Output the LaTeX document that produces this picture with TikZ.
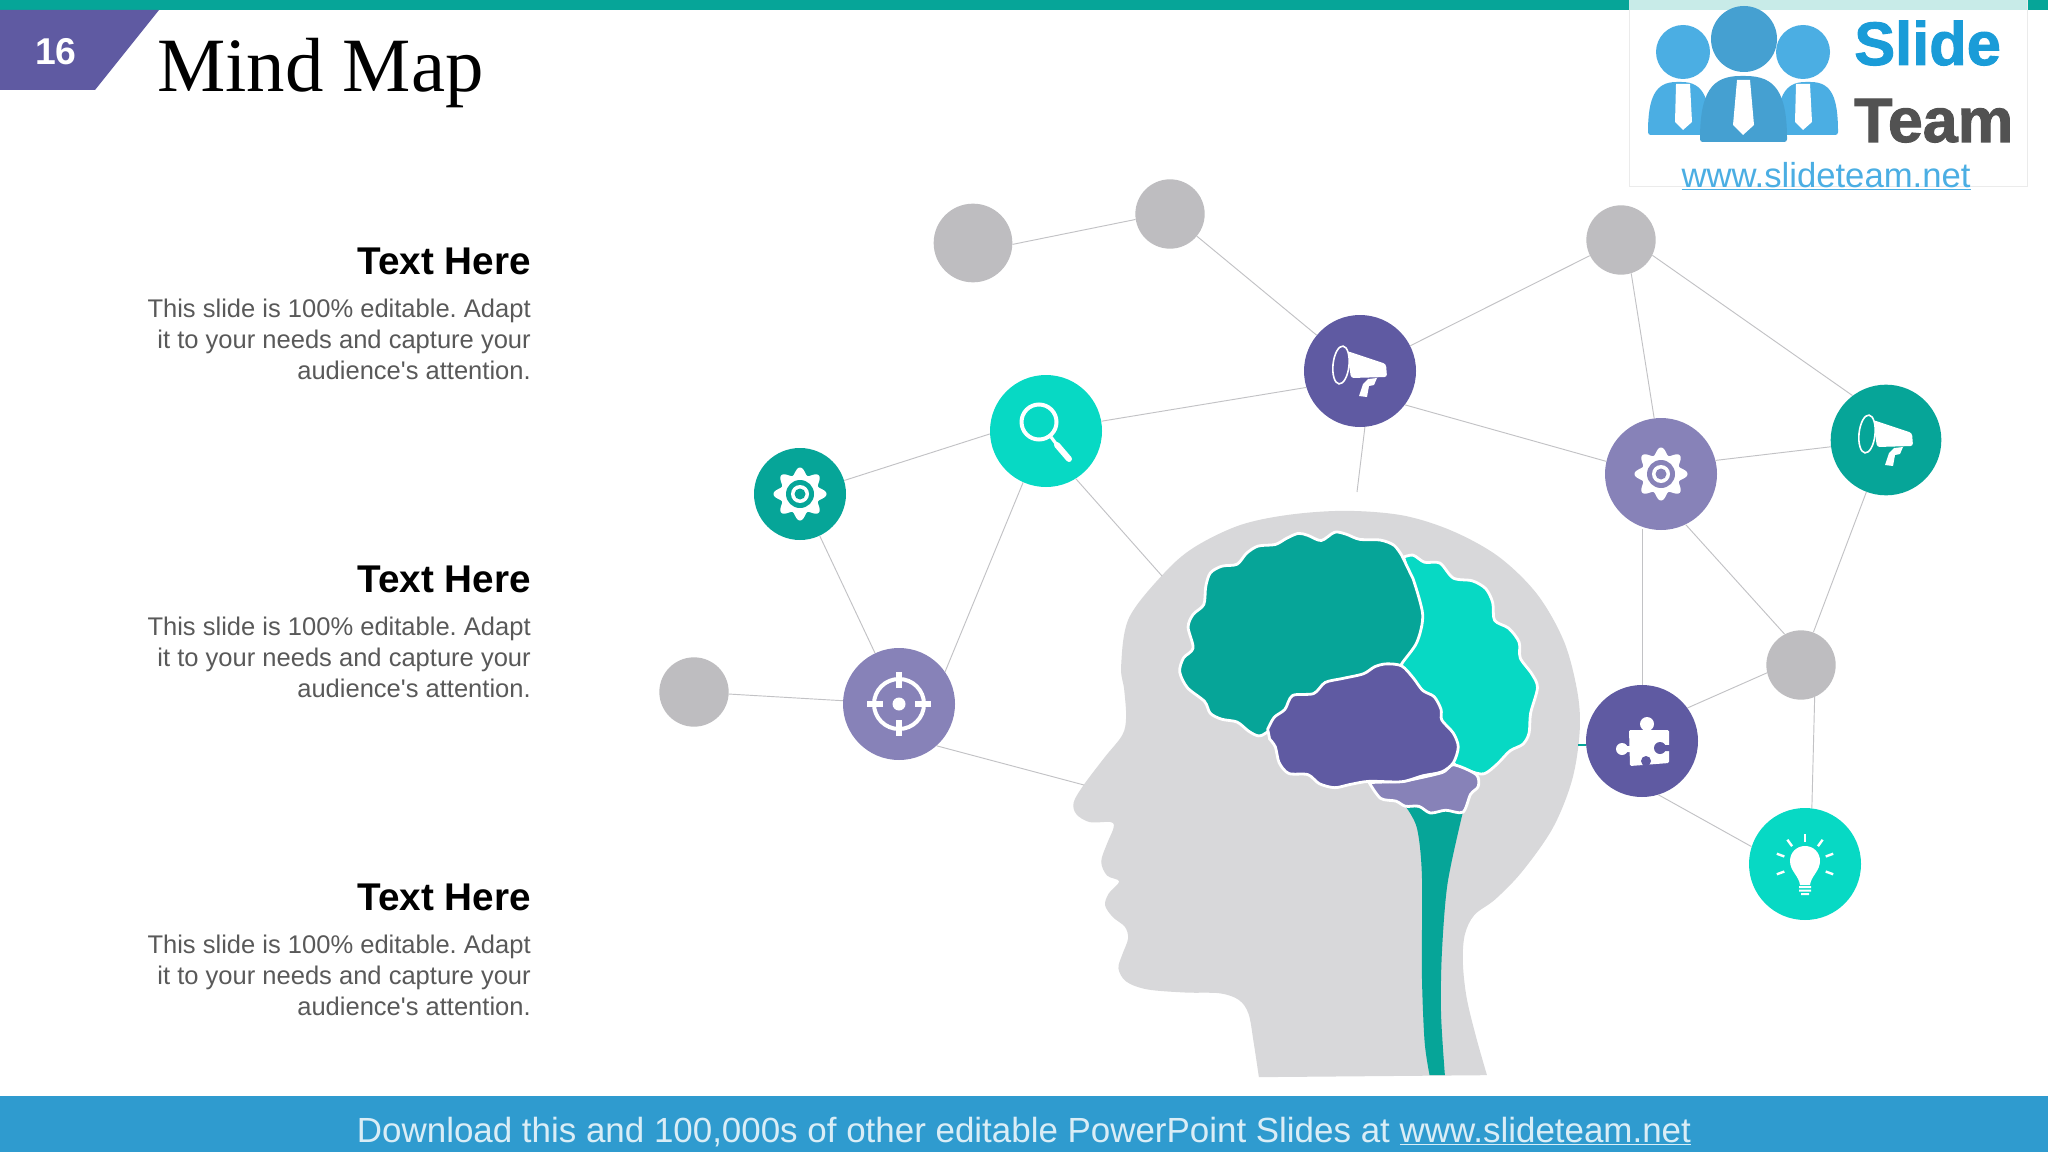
\documentclass[tikz,border=0pt]{standalone}
\usepackage{fontspec}
\setmainfont{Liberation Sans}
\newfontfamily\titlefont{Liberation Serif}
\newfontfamily\logofont[FakeBold=1.6]{Liberation Sans Bold}
\usetikzlibrary{shapes}
\definecolor{darkteal}{HTML}{06A598}
\definecolor{lightteal}{HTML}{07D9C4}
\definecolor{darkpurple}{HTML}{5F5AA2}
\definecolor{midpurple}{HTML}{8782B8}
\definecolor{dotgrey}{HTML}{BEBDC0}
\definecolor{headgrey}{HTML}{D8D8DA}
\definecolor{linegrey}{HTML}{C2C2C5}
\definecolor{barblue}{HTML}{2F9BCF}
\definecolor{logoblue}{HTML}{4BAEE3}
\definecolor{slideblue}{HTML}{1A9CD8}
\definecolor{bodygrey}{HTML}{595959}
\tikzset{
	hub/.style={circle,minimum size=84pt,inner sep=0pt,fill=#1},
	dot/.style={circle,minimum size=52pt,inner sep=0pt,fill=dotgrey},
	link/.style={draw=linegrey,line width=.7pt},
	brainpart/.style={draw=white,line width=2.1pt,line join=round},
	heading/.style={anchor=base east,inner sep=0pt,font=\fontsize{29}{30}\selectfont\bfseries},
	blurb/.style={anchor=north east,inner sep=0pt,align=right,text=bodygrey,font=\fontsize{19.15}{23}\selectfont\frenchspacing}
}
\newcommand{\gearicon}[3]{
	\begin{scope}[shift={(#1.center)},scale=#2]
		\fill[white] plot[domain=0:360,samples=145,smooth] (\x:{23+3.5*cos(8*\x)}) -- cycle;
		\fill[#3] (0,0) circle (14);
		\fill[white] (0,0) circle (9);
		\fill[#3] (0,0) circle (5.5);
	\end{scope}
}
\newcommand{\megaicon}[2]{
	\begin{scope}[shift={(#1.center)},scale=#2]
		\fill[white,rounded corners=2] (-13,-20) -- (26,-7) -- (27,6) -- (-9,7) -- cycle;
		\filldraw[fill=#1color,draw=white,line width=1.2pt,rotate around={-6:(-19,-6)}] (-19,-6) ellipse (8 and 19);
		\fill[white] (-1,25) -- (3,13) -- (8,8) -- (17,7) -- (14,14) -- (9,15) -- (7,26) -- cycle;
	\end{scope}
}
\colorlet{mega1color}{darkpurple}
\colorlet{mega2color}{darkteal}
\begin{document}
\begin{tikzpicture}[x=.75pt,y=-.75pt]
	\useasboundingbox (0,0) rectangle (2048,1152);
	\fill[white] (0,0) rectangle (2048,1152);
	% header and footer
	\fill[darkteal] (0,0) rectangle (2048,10);
	\fill[darkpurple] (0,10) -- (159,10) -- (95,90) -- (0,90) -- cycle;
	\node[text=white,inner sep=0pt,anchor=base,font=\fontsize{28}{30}\selectfont\bfseries] (pagenum) at (56,65) {16};
	\node[anchor=base west,inner sep=0pt,font=\fontsize{57.6}{60}\selectfont\titlefont] (title) at (157,92) {Mind Map};
	\fill[barblue] (0,1096) rectangle (2048,1152);
	\node[text=white!82!barblue,inner sep=0pt,anchor=base,font=\fontsize{26.2}{28}\selectfont] (download) at (1024,1142) {Download this and 100,000s of other editable PowerPoint Slides at \underline{www.slideteam.net}};
	% logo
	\filldraw[fill=white,draw=black!8] (1629,0) rectangle (2027,186);
	\fill[darkteal!22] (1629,0) rectangle (2027,10);
	\fill[logoblue,rounded corners=2] (1648,135) .. controls (1648,98) and (1655,82) .. (1679,82) .. controls (1703,82) and (1710,98) .. (1710,135) -- cycle;
	\fill[logoblue,rounded corners=2] (1777,135) .. controls (1777,98) and (1784,82) .. (1808,82) .. controls (1832,82) and (1838,98) .. (1838,135) -- cycle;
	\fill[white] (1676,84) -- (1690,84) -- (1692,122) -- (1683,130) -- (1675,122) -- cycle;
	\fill[white] (1796,84) -- (1810,84) -- (1812,122) -- (1803,130) -- (1795,122) -- cycle;
	\fill[logoblue!92!black,rounded corners=2] (1700,142) .. controls (1700,92) and (1712,76) .. (1743,76) .. controls (1775,76) and (1787,92) .. (1787,142) -- cycle;
	\fill[logoblue] (1683,52) circle (27);
	\fill[logoblue] (1803,52) circle (27);
	\fill[logoblue!92!black] (1744,39) circle (33);
	\fill[white] (1737,80) -- (1750,80) -- (1754,125) -- (1743,135) -- (1733,125) -- cycle;
	\node[anchor=base west,inner sep=0pt,text=slideblue,font=\fontsize{46}{50}\selectfont\logofont] (slideword) at (1854,65) {Slide};
	\node[anchor=base west,inner sep=0pt,text=black!68,font=\fontsize{47}{50}\selectfont\logofont] (teamword) at (1854,142) {Team};
	\node[anchor=base,inner sep=0pt,text=logoblue,font=\fontsize{26}{28}\selectfont] (logourl) at (1826,187) {\underline{www.slideteam.net}};
	% left column
	\foreach \n/\y in {a/0,b/318,c/636}{
		\node[heading] (head\n) at (531,{274+\y}) {Text Here};
		\node[blurb] (blurb\n) at (531,{299+\y}) {This slide is 100\% editable. Adapt\\it to your needs and capture your\\audience\textquotesingle s attention.};
	}
	% head
	\begin{scope}[shift={(1040,480)},x=.287pt,y=-.2966pt]
		\fill[headgrey] plot[smooth,tension=.55] coordinates {(572,1510) (558,1420) (545,1350) (520,1315) (470,1298) (380,1296) (280,1288) (225,1268) (205,1235) (215,1200) (230,1160) (222,1130) (190,1105) (170,1075) (180,1045) (207,1015) (175,1000) (160,965) (175,920) (192,880) (185,865) (130,865) (95,845) (88,815) (115,770) (170,700) (215,645) (225,600) (220,530) (212,470) (232,350) (320,240) (400,172) (520,115) (650,88) (800,78) (950,90) (1080,130) (1200,195) (1300,290) (1370,410) (1405,540) (1410,640) (1390,760) (1340,880) (1260,990) (1190,1060) (1135,1100) (1110,1150) (1105,1220) (1115,1310) (1140,1410) (1168,1505)} -- cycle;
		\fill[darkteal] plot[smooth,tension=.5] coordinates {(955,825) (985,880) (998,1000) (998,1250) (1005,1420) (1018,1505)} -- plot[smooth,tension=.5] coordinates {(1058,1505) (1048,1350) (1050,1200) (1065,1020) (1105,840)} -- cycle;
		\filldraw[brainpart,fill=lightteal] plot[smooth,tension=.5] coordinates {(950,195) (975,190) (1005,208) (1045,210) (1080,248) (1130,255) (1165,275) (1183,310) (1188,355) (1225,375) (1252,410) (1255,450) (1285,490) (1300,525) (1282,590) (1278,640) (1262,668) (1228,685) (1195,718) (1160,743) (1120,735) (1080,715) (1000,600) (945,465) (1000,350)} -- cycle;
		\filldraw[brainpart,fill=darkteal] plot[smooth,tension=.5] coordinates {(945,190) (925,165) (890,152) (835,150) (800,137) (770,132) (735,153) (700,140) (675,135) (645,147) (615,163) (570,167) (540,185) (515,213) (475,218) (445,235) (433,270) (428,315) (400,340) (387,372) (400,425) (375,450) (365,485) (385,525) (430,560) (445,590) (475,605) (515,612) (545,635) (570,647) (590,640) (650,600) (800,560) (930,500) (945,465) (985,410) (1000,340) (975,250)} -- cycle;
		\filldraw[brainpart,fill=midpurple] plot[smooth,tension=.5] coordinates {(860,765) (890,805) (930,812) (955,825) (990,825) (1020,842) (1060,835) (1105,840) (1125,795) (1145,775) (1140,745) (1080,720) (1050,740) (950,762)} -- cycle;
		\filldraw[brainpart,fill=darkpurple] plot[smooth,tension=.5] coordinates {(595,630) (612,600) (640,580) (660,545) (715,540) (745,512) (790,502) (845,490) (875,472) (905,465) (945,470) (975,500) (1000,532) (1030,548) (1048,580) (1050,607) (1080,640) (1093,675) (1080,715) (1050,738) (1000,748) (945,763) (860,762) (810,770) (770,778) (730,768) (700,745) (650,742) (625,715) (615,675) (600,655)} -- cycle;
	\end{scope}
	% network nodes
	\node[dot,minimum size=59pt] (grey1) at (973,243) {};
	\node[dot] (grey2) at (1170,214) {};
	\node[dot] (grey3) at (1621,240) {};
	\node[dot] (grey4) at (694,692) {};
	\node[dot] (grey5) at (1801,665) {};
	\node[hub=darkpurple] (mega1) at (1360,371) {};
	\node[hub=lightteal] (search) at (1046,431) {};
	\node[hub=darkteal,minimum size=69pt] (gear1) at (800,494) {};
	\node[hub=midpurple] (target) at (899,704) {};
	\node[hub=midpurple] (gear2) at (1661,474) {};
	\node[hub=darkteal,minimum size=83pt] (mega2) at (1886,440) {};
	\node[hub=darkpurple] (puzzle) at (1642,741) {};
	\node[hub=lightteal] (bulb) at (1805,864) {};
	\coordinate (headtop) at (1357,492);
	\coordinate (headleft) at (1162,576);
	\coordinate (headnose) at (1084,785);
	\coordinate (headback) at (1578,745);
	% connectors
	\draw[link] (grey1.-2) -- (grey2.189);
	\draw[link] (grey2) -- (mega1);
	\draw[link] (mega1) -- (grey3);
	\draw[link] (grey3.-26) -- (mega2.127);
	\draw[link] (grey3.-73) -- (gear2.97);
	\draw[link] (mega1.-37) -- (gear2.167);
	\draw[link] (gear2.14) -- (mega2.187);
	\draw[link] (mega1.197) -- (search.10);
	\draw[link] (mega1.-85) -- (headtop);
	\draw[link] (search.183) -- (gear1.17);
	\draw[link] (search.246) -- (target.35);
	\draw[link] (search.-58) -- (headleft);
	\draw[link] (gear1) -- (target);
	\draw[link] (target) -- (grey4);
	\draw[link] (target.-48) -- (headnose);
	\draw[link] (gear2.-64) -- (grey5.118);
	\draw[link] (mega2) -- (grey5);
	\draw[link] (grey5.193) -- (puzzle.36);
	\draw[link] (puzzle.-73) -- (bulb.162);
	\draw[link] (grey5.-67) -- (bulb.83);
	\draw[link] (puzzle.north) -- (puzzle.north |- gear2.-103);
	\draw[draw=darkteal,line width=.8pt] (headback) -- (puzzle.west |- headback);
	% icons
	\gearicon{gear1}{1}{darkteal}
	\gearicon{gear2}{1}{midpurple}
	\megaicon{mega1}{1}
	\megaicon{mega2}{1}
	\begin{scope}[shift={(search.center)}]
		\draw[white,line width=3pt] (-7,-9) circle (17.5);
		\draw[white,line width=2.4pt] (5,6) -- (11,14);
		\draw[white,line width=4.5pt,line cap=round] (11,14) -- (23,28);
	\end{scope}
	\begin{scope}[shift={(target.center)}]
		\draw[white,line width=3pt] (0,0) circle (25);
		\fill[white] (0,0) circle (6.5);
		\foreach \a in {0,90,180,270}
			\draw[white,line width=3.8pt] (\a:16) -- (\a:32);
	\end{scope}
	\begin{scope}[shift={(puzzle.center)}]
		\fill[white,rounded corners=1] (-13,-11) -- (27,-11) -- (27,22) -- (-12,25) -- cycle;
		\fill[white] (5,-17) circle (7) (-20,8) circle (6);
		\fill[white] (2,-14) rectangle (8,-8) (-20,5) rectangle (-10,11);
		\fill[darkpurple] (18,7) circle (6) (4,20) circle (5);
		\fill[darkpurple] (20,4) rectangle (28,10) (2,20) rectangle (6,27);
	\end{scope}
	\begin{scope}[shift={(bulb.center)}]
		\fill[white] (-5,21) .. controls (-6,12) and (-15,7) .. (-15,-3) .. controls (-15,-12) and (-8,-18) .. (0,-18) .. controls (8,-18) and (15,-12) .. (15,-3) .. controls (15,7) and (6,12) .. (5,21) -- cycle;
		\fill[white] (-6,22) rectangle (6,24) (-6,25.5) rectangle (6,27.5) (-4,29) rectangle (4,31);
		\foreach \a in {-90,-54,-126,-20,-160,20,160}
			\draw[white,line width=1.8pt] (\a:22) -- (\a:30);
	\end{scope}
\end{tikzpicture}
\end{document}
